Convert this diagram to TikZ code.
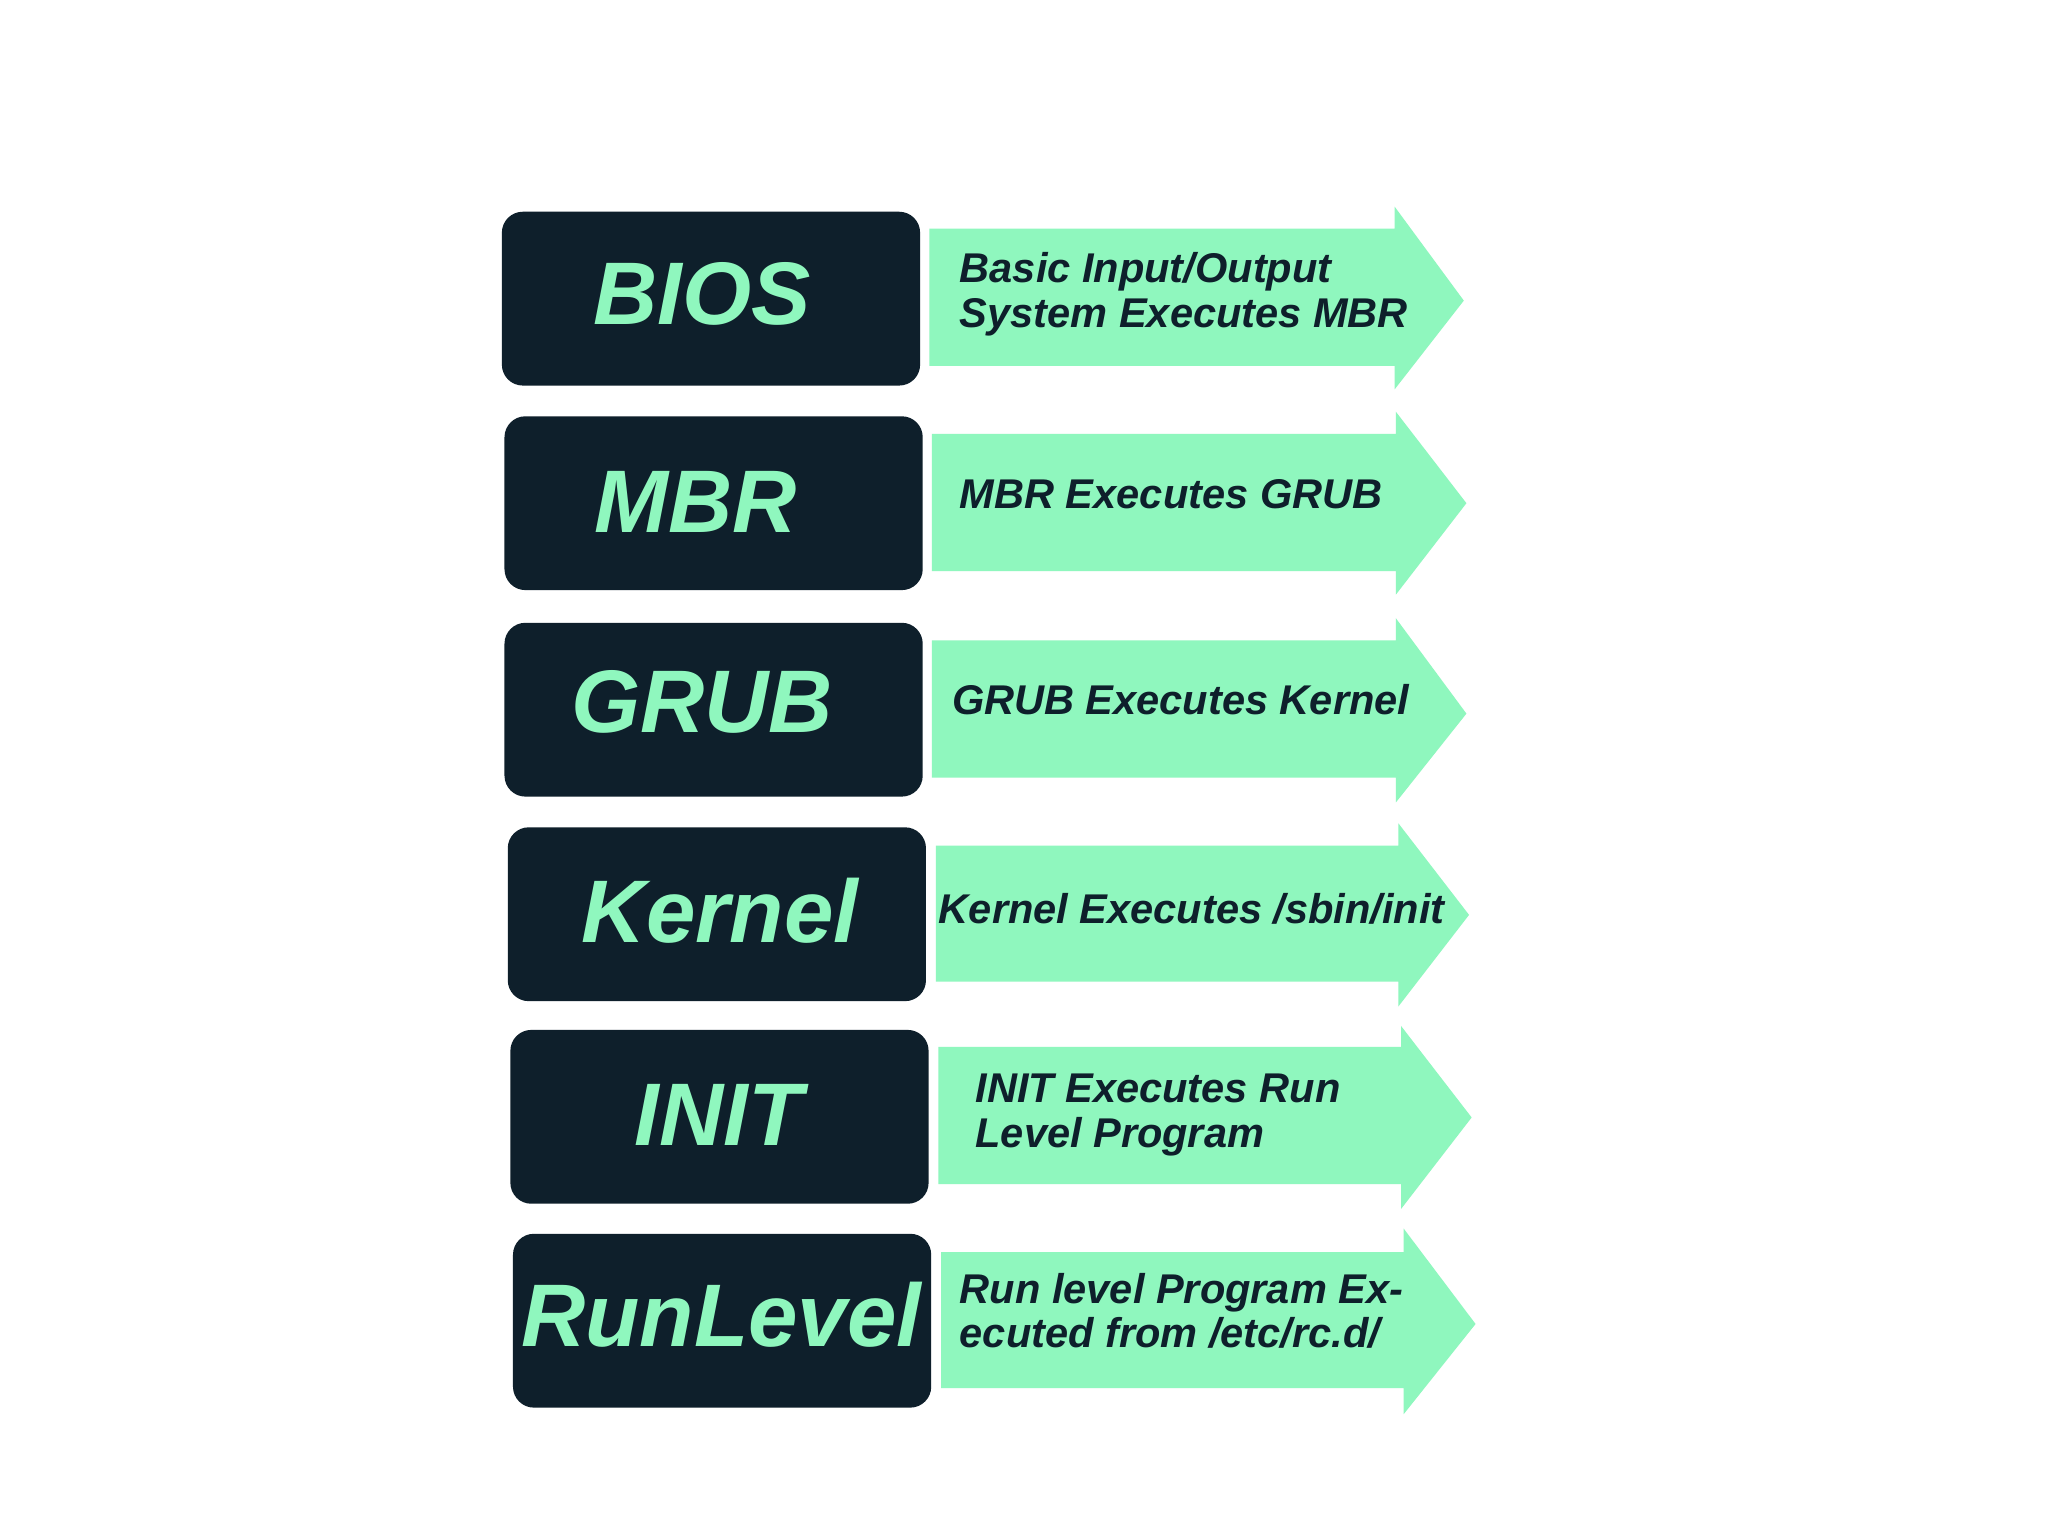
\documentclass[tikz,border=0pt]{standalone}
\usepackage{fontspec}
\setmainfont{Liberation Sans}
\definecolor{navy}{HTML}{0E1F2B}
\definecolor{mint}{HTML}{8FF7BE}
\begin{document}
\begin{tikzpicture}[x=0.5pt,y=-0.5pt,
  box/.style={fill=navy, draw=none, rounded corners=8pt, minimum width=160pt, minimum height=66.5pt, inner sep=0pt},
  big/.style={text=mint, font=\fontsize{34}{40}\selectfont\bfseries\itshape, inner sep=0pt},
  small/.style={text=navy, font=\fontsize{15.9}{17}\selectfont\bfseries\itshape, align=left, anchor=west, inner sep=0pt},
  arr/.style={fill=mint, draw=none}]
\useasboundingbox[fill=white] (0,0) rectangle (1567,1174.5);

% BIOS
\node[box] (biosbox) at (544,228.5) {};
\node[big] (bios) at (537,225) {BIOS};
\fill[arr] (711,175) -- (1067,175) -- (1067,158) -- (1120,230) -- (1067,298) -- (1067,280) -- (711,280) -- cycle;
\node[small] (biost) at (734,225) {Basic Input/Output\\System Executes MBR};

% MBR
\node[box] (mbrbox) at (546,385) {};
\node[big] (mbr) at (532,384) {MBR};
\fill[arr] (713,332) -- (1068,332) -- (1068,315) -- (1122,385) -- (1068,455) -- (1068,437) -- (713,437) -- cycle;
\node[small] (mbrt) at (734,378) {MBR Executes GRUB};

% GRUB
\node[box] (grubbox) at (546,543) {};
\node[big] (grub) at (537,537) {GRUB};
\fill[arr] (713,490) -- (1068,490) -- (1068,473) -- (1122,546) -- (1068,614) -- (1068,595) -- (713,595) -- cycle;
\node[small] (grubt) at (728,535) {GRUB Executes Kernel};

% Kernel
\node[box] (kernelbox) at (548.5,699.5) {};
\node[big] (kernel) at (551,697) {Kernel};
\fill[arr] (716,647) -- (1070,647) -- (1070,630) -- (1124,700) -- (1070,770) -- (1070,751) -- (716,751) -- cycle;
\node[small] (kernelt) at (718,695) {Kernel Executes /sbin/init};

% INIT
\node[box] (initbox) at (550.5,854.5) {};
\node[big] (init) at (550,853) {INIT};
\fill[arr] (718,801) -- (1072,801) -- (1072,785) -- (1126,855) -- (1072,925) -- (1072,906) -- (718,906) -- cycle;
\node[small] (initt) at (746,853) {INIT Executes Run\\Level Program};

% RunLevel
\node[box] (runbox) at (552.5,1010.5) {};
\node[big] (run) at (552,1006) {RunLevel};
\fill[arr] (720,958) -- (1074,958) -- (1074,940) -- (1129,1013) -- (1074,1082) -- (1074,1062) -- (720,1062) -- cycle;
\node[small] (runt) at (734,1003) {Run level Program Ex-\\ecuted from /etc/rc.d/};
\end{tikzpicture}
\end{document}
